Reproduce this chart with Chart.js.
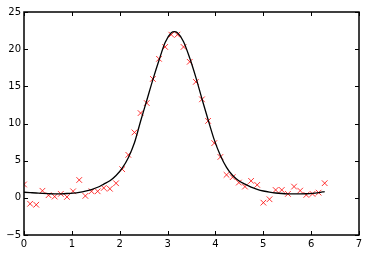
<!DOCTYPE html>
<html><head><meta charset="utf-8">
<style>html,body{margin:0;padding:0;background:#fff}#wrap{width:368px;height:256px}</style>
<script src="https://cdn.jsdelivr.net/npm/chart.js@4/dist/chart.umd.min.js"></script>
</head><body>
<div id="wrap"><canvas id="c" width="368" height="256"></canvas></div>
<script>
const xValues=[0.000,0.128,0.256,0.385,0.513,0.641,0.769,0.898,1.026,1.154,1.282,1.411,1.539,1.667,1.795,1.924,2.052,2.180,2.308,2.436,2.565,2.693,2.821,2.949,3.078,3.206,3.334,3.463,3.591,3.719,3.847,3.976,4.104,4.232,4.360,4.489,4.617,4.745,4.873,5.002,5.130,5.258,5.386,5.515,5.643,5.771,5.899,6.028,6.156,6.283];
const dataY=[1.8,-0.8,-0.93,0.95,0.35,0.17,0.53,0.12,0.88,2.4,0.26,0.88,0.88,1.33,1.22,1.96,3.85,5.78,8.8,11.4,12.75,16.0,18.7,20.3,21.95,21.95,20.3,18.3,15.6,13.25,10.35,7.36,5.5,3.09,2.78,2.05,1.51,2.28,1.74,-0.65,-0.19,1.06,1.06,0.53,1.51,0.97,0.39,0.53,0.7,1.97];
const lineX=[0.000,0.128,0.256,0.385,0.513,0.641,0.769,0.898,1.026,1.154,1.282,1.411,1.539,1.667,1.795,1.924,2.052,2.180,2.308,2.436,2.565,2.693,2.821,2.949,3.078,3.142,3.206,3.334,3.463,3.591,3.719,3.847,3.976,4.104,4.232,4.360,4.489,4.617,4.745,4.873,5.002,5.130,5.258,5.386,5.515,5.643,5.771,5.899,6.028,6.156,6.283];
const lineY=[0.75,0.70,0.65,0.60,0.56,0.53,0.54,0.58,0.64,0.74,0.90,1.12,1.42,1.85,2.3,3.0,4.0,5.4,7.4,10.3,13.1,15.9,18.5,20.9,22.2,22.35,22.2,21.0,18.8,16.2,13.3,10.5,7.8,5.7,4.1,3.0,2.3,1.85,1.45,1.15,0.92,0.76,0.65,0.58,0.54,0.53,0.53,0.55,0.60,0.70,0.84];
const xTicks=[0,1,2,3,4,5,6,7];
const yTicks=[-5,0,5,10,15,20,25];

const frame={id:'frame',afterDatasetsDraw(chart){
  const {ctx,chartArea:a,scales:{x,y}}=chart;
  ctx.save();ctx.strokeStyle='#000';ctx.lineWidth=1;ctx.beginPath();
  xTicks.forEach(v=>{const p=Math.round(x.getPixelForValue(v))+0.5;
    ctx.moveTo(p,a.bottom);ctx.lineTo(p,a.bottom-4);ctx.moveTo(p,a.top);ctx.lineTo(p,a.top+4);});
  yTicks.forEach(v=>{const p=Math.round(y.getPixelForValue(v))+0.5;
    ctx.moveTo(a.left,p);ctx.lineTo(a.left+4,p);ctx.moveTo(a.right,p);ctx.lineTo(a.right-4,p);});
  ctx.stroke();
  ctx.lineWidth=1.5;ctx.strokeRect(a.left,a.top,a.right-a.left,a.bottom-a.top);
  ctx.restore();}};

const fmt=v=>v<0?'\u2212'+Math.abs(v):String(v);
new Chart(document.getElementById('c'),{
  type:'scatter',
  data:{datasets:[
    {label:'fit',type:'line',data:lineX.map((v,i)=>({x:v,y:lineY[i]})),borderColor:'#000',borderWidth:1.3,pointRadius:0,cubicInterpolationMode:'monotone',fill:false,order:0,clip:0},
    {label:'data',data:xValues.map((v,i)=>({x:v,y:dataY[i]})),pointStyle:'crossRot',pointRadius:4,borderColor:'#ff0000',backgroundColor:'#ff0000',borderWidth:0.8,order:1,clip:0}
  ]},
  options:{responsive:false,devicePixelRatio:1,animation:false,
    layout:{padding:{left:0,right:9,top:12,bottom:0}},
    plugins:{legend:{display:false},tooltip:{enabled:false}},
    scales:{
      x:{type:'linear',min:0,max:7,grid:{display:false,drawTicks:false},border:{display:false},
        ticks:{stepSize:1,padding:3,color:'#000',font:{family:'DejaVu Sans',size:10},callback:fmt,maxRotation:0},
        afterFit:s=>{s.height=21;}},
      y:{type:'linear',min:-5,max:25,grid:{display:false,drawTicks:false},border:{display:false},
        ticks:{stepSize:5,padding:3,color:'#000',font:{family:'DejaVu Sans',size:10},callback:fmt},
        afterFit:s=>{s.width=24;}}
    }},
  plugins:[frame]
});
</script>
</body></html>
